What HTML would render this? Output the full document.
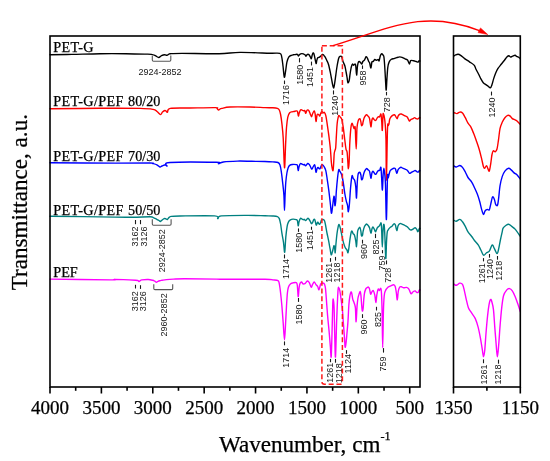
<!DOCTYPE html>
<html><head><meta charset="utf-8"><style>
html,body{margin:0;padding:0;background:#fff;}
svg{display:block;}
.ann{font-family:"Liberation Sans",Arial,sans-serif;font-size:9px;fill:#151515;}
.ser{font-family:"Liberation Serif","Times New Roman",serif;fill:#000;stroke:#000;stroke-width:0.25px;}
</style></head><body>
<svg width="550" height="461" viewBox="0 0 550 461">
<rect width="550" height="461" fill="#fff"/>

<path d="M50.00,54.80 C53.67,54.73 63.67,54.58 72.00,54.40 C80.33,54.22 91.00,53.82 100.00,53.70 C109.00,53.58 118.50,53.63 126.00,53.70 C133.50,53.77 140.77,53.98 145.00,54.10 C149.23,54.22 149.70,54.15 151.40,54.40 C153.10,54.65 153.98,55.08 155.20,55.60 C156.42,56.12 157.65,57.50 158.70,57.50 C159.75,57.50 160.50,56.07 161.50,55.60 C162.50,55.13 163.78,54.75 164.70,54.70 C165.62,54.65 166.35,55.35 167.00,55.30 C167.65,55.25 168.02,54.67 168.60,54.40 C169.18,54.13 168.27,53.87 170.50,53.70 C172.73,53.53 173.92,53.40 182.00,53.40 C190.08,53.40 209.33,53.87 219.00,53.70 C228.67,53.53 231.50,52.48 240.00,52.40 C248.50,52.32 263.37,53.03 270.00,53.20 C276.63,53.37 277.85,52.78 279.80,53.40 C281.75,54.02 281.17,54.80 281.70,56.90 C282.23,59.00 282.57,62.63 283.00,66.00 C283.43,69.37 283.87,76.23 284.30,77.10 C284.73,77.97 285.17,73.70 285.60,71.20 C286.03,68.70 286.35,64.48 286.90,62.10 C287.45,59.72 288.13,58.03 288.90,56.90 C289.67,55.77 290.73,55.65 291.50,55.30 C292.27,54.95 292.88,54.92 293.50,54.80 C294.12,54.68 294.63,54.68 295.20,54.60 C295.77,54.52 296.45,54.25 296.90,54.30 C297.35,54.35 297.63,54.62 297.90,54.90 C298.17,55.18 298.23,56.05 298.50,56.00 C298.77,55.95 298.95,55.00 299.50,54.60 C300.05,54.20 301.10,53.68 301.80,53.60 C302.50,53.52 303.13,53.87 303.70,54.10 C304.27,54.33 304.82,54.65 305.20,55.00 C305.58,55.35 305.70,56.23 306.00,56.20 C306.30,56.17 306.67,55.15 307.00,54.80 C307.33,54.45 307.67,54.10 308.00,54.10 C308.33,54.10 308.62,54.35 309.00,54.80 C309.38,55.25 309.92,56.15 310.30,56.80 C310.68,57.45 311.00,58.92 311.30,58.70 C311.60,58.48 311.82,56.47 312.10,55.50 C312.38,54.53 312.70,53.18 313.00,52.90 C313.30,52.62 313.62,53.10 313.90,53.80 C314.18,54.50 314.43,55.90 314.70,57.10 C314.97,58.30 315.25,59.92 315.50,61.00 C315.75,62.08 315.98,63.70 316.20,63.60 C316.42,63.50 316.53,61.38 316.80,60.40 C317.07,59.42 317.42,58.20 317.80,57.70 C318.18,57.20 318.67,57.62 319.10,57.40 C319.53,57.18 320.02,56.72 320.40,56.40 C320.78,56.08 321.07,55.82 321.40,55.50 C321.73,55.18 322.07,54.62 322.40,54.50 C322.73,54.38 323.07,54.53 323.40,54.80 C323.73,55.07 324.02,55.55 324.40,56.10 C324.78,56.65 325.32,57.42 325.70,58.10 C326.08,58.78 326.22,59.10 326.70,60.20 C327.18,61.30 327.95,62.43 328.60,64.70 C329.25,66.97 329.98,70.75 330.60,73.80 C331.22,76.85 331.82,80.65 332.30,83.00 C332.78,85.35 333.13,87.68 333.50,87.90 C333.87,88.12 334.12,86.43 334.50,84.30 C334.88,82.17 335.37,78.15 335.80,75.10 C336.23,72.05 336.62,68.82 337.10,66.00 C337.58,63.18 338.20,59.82 338.70,58.20 C339.20,56.58 339.60,56.55 340.10,56.30 C340.60,56.05 341.22,55.83 341.70,56.70 C342.18,57.57 342.47,59.95 343.00,61.50 C343.53,63.05 344.37,64.17 344.90,66.00 C345.43,67.83 345.83,70.55 346.20,72.50 C346.57,74.45 346.82,76.00 347.10,77.70 C347.38,79.40 347.55,82.27 347.90,82.70 C348.25,83.13 348.83,81.78 349.20,80.30 C349.57,78.82 349.73,76.07 350.10,73.80 C350.47,71.53 351.00,68.32 351.40,66.70 C351.80,65.08 352.13,64.32 352.50,64.10 C352.87,63.88 353.23,65.40 353.60,65.40 C353.97,65.40 354.35,64.10 354.70,64.10 C355.05,64.10 355.38,63.57 355.70,65.40 C356.02,67.23 356.30,75.00 356.60,75.10 C356.90,75.20 357.18,68.22 357.50,66.00 C357.82,63.78 358.05,62.45 358.50,61.80 C358.95,61.15 359.65,61.72 360.20,62.10 C360.75,62.48 361.37,64.20 361.80,64.10 C362.23,64.00 362.37,62.15 362.80,61.50 C363.23,60.85 363.85,61.00 364.40,60.20 C364.95,59.40 365.60,57.03 366.10,56.70 C366.60,56.37 366.97,57.40 367.40,58.20 C367.83,59.00 368.33,60.73 368.70,61.50 C369.07,62.27 369.23,61.72 369.60,62.80 C369.97,63.88 370.52,68.12 370.90,68.00 C371.28,67.88 371.52,63.18 371.90,62.10 C372.28,61.02 372.72,61.93 373.20,61.50 C373.68,61.07 374.25,59.72 374.80,59.50 C375.35,59.28 375.93,60.20 376.50,60.20 C377.07,60.20 377.77,59.40 378.20,59.50 C378.63,59.60 378.73,61.45 379.10,60.80 C379.47,60.15 379.97,56.78 380.40,55.60 C380.83,54.42 381.27,53.80 381.70,53.70 C382.13,53.60 382.63,54.47 383.00,55.00 C383.37,55.53 383.62,55.07 383.90,56.90 C384.18,58.73 384.42,61.87 384.70,66.00 C384.98,70.13 385.35,77.68 385.60,81.70 C385.85,85.72 385.98,90.53 386.20,90.10 C386.42,89.67 386.63,82.90 386.90,79.10 C387.17,75.30 387.43,70.13 387.80,67.30 C388.17,64.47 388.50,63.43 389.10,62.10 C389.70,60.77 390.57,59.88 391.40,59.30 C392.23,58.72 393.22,58.88 394.10,58.60 C394.98,58.32 395.73,57.88 396.70,57.60 C397.67,57.32 398.93,56.90 399.90,56.90 C400.87,56.90 401.63,57.27 402.50,57.60 C403.37,57.93 404.23,58.47 405.10,58.90 C405.97,59.33 406.98,59.33 407.70,60.20 C408.42,61.07 408.90,64.03 409.40,64.10 C409.90,64.17 410.00,61.15 410.70,60.60 C411.40,60.05 412.68,60.65 413.60,60.80 C414.52,60.95 415.45,61.28 416.20,61.50 C416.95,61.72 417.63,62.22 418.10,62.10 C418.57,61.98 418.68,60.98 419.00,60.80 C419.32,60.62 419.83,60.97 420.00,61.00" fill="none" stroke="#000" stroke-width="1.4" stroke-linejoin="round" stroke-linecap="round"/>
<path d="M50.00,108.80 C58.33,108.72 85.00,108.37 100.00,108.30 C115.00,108.23 131.15,108.22 140.00,108.40 C148.85,108.58 150.27,108.88 153.10,109.40 C155.93,109.92 155.77,110.63 157.00,111.50 C158.23,112.37 159.58,114.52 160.50,114.60 C161.42,114.68 161.77,112.68 162.50,112.00 C163.23,111.32 164.28,110.63 164.90,110.50 C165.52,110.37 165.77,110.92 166.20,111.20 C166.63,111.48 166.82,112.67 167.50,112.20 C168.18,111.73 166.55,109.10 170.30,108.40 C174.05,107.70 182.50,108.13 190.00,108.00 C197.50,107.87 210.80,107.52 215.30,107.60 C219.80,107.68 216.45,108.10 217.00,108.50 C217.55,108.90 218.10,109.92 218.60,110.00 C219.10,110.08 219.47,109.27 220.00,109.00 C220.53,108.73 220.13,108.73 221.80,108.40 C223.47,108.07 225.30,107.23 230.00,107.00 C234.70,106.77 244.17,106.90 250.00,107.00 C255.83,107.10 261.20,107.47 265.00,107.60 C268.80,107.73 270.73,107.67 272.80,107.80 C274.87,107.93 276.32,108.03 277.40,108.40 C278.48,108.77 278.77,108.98 279.30,110.00 C279.83,111.02 280.17,112.23 280.60,114.50 C281.03,116.77 281.47,119.68 281.90,123.60 C282.33,127.52 282.77,130.65 283.20,138.00 C283.63,145.35 284.10,166.62 284.50,167.70 C284.90,168.78 285.27,151.20 285.60,144.50 C285.93,137.80 286.13,132.07 286.50,127.50 C286.87,122.93 287.27,119.55 287.80,117.10 C288.33,114.65 289.00,113.68 289.70,112.80 C290.40,111.92 291.30,112.02 292.00,111.80 C292.70,111.58 293.15,111.65 293.90,111.50 C294.65,111.35 295.90,110.88 296.50,110.90 C297.10,110.92 297.18,110.75 297.50,111.60 C297.82,112.45 298.12,115.75 298.40,116.00 C298.68,116.25 298.85,114.12 299.20,113.10 C299.55,112.08 300.02,110.40 300.50,109.90 C300.98,109.40 301.62,109.95 302.10,110.10 C302.58,110.25 302.97,110.73 303.40,110.80 C303.83,110.87 304.32,110.07 304.70,110.50 C305.08,110.93 305.37,113.35 305.70,113.40 C306.03,113.45 306.37,111.38 306.70,110.80 C307.03,110.22 307.32,109.90 307.70,109.90 C308.08,109.90 308.57,110.10 309.00,110.80 C309.43,111.50 309.88,113.12 310.30,114.10 C310.72,115.08 311.12,116.77 311.50,116.70 C311.88,116.63 312.13,114.68 312.60,113.70 C313.07,112.72 313.87,110.68 314.30,110.80 C314.73,110.92 314.92,112.60 315.20,114.40 C315.48,116.20 315.70,121.48 316.00,121.60 C316.30,121.72 316.70,116.35 317.00,115.10 C317.30,113.85 317.50,114.17 317.80,114.10 C318.10,114.03 318.47,114.38 318.80,114.70 C319.13,115.02 319.42,116.38 319.80,116.00 C320.18,115.62 320.72,113.10 321.10,112.40 C321.48,111.70 321.72,111.73 322.10,111.80 C322.48,111.87 323.02,112.70 323.40,112.80 C323.78,112.90 324.00,111.93 324.40,112.40 C324.80,112.87 325.32,113.53 325.80,115.60 C326.28,117.67 326.80,121.50 327.30,124.80 C327.80,128.10 328.28,131.35 328.80,135.40 C329.32,139.45 329.97,144.53 330.40,149.10 C330.83,153.67 331.08,159.50 331.40,162.80 C331.72,166.10 332.02,167.63 332.30,168.90 C332.58,170.17 332.87,171.42 333.10,170.40 C333.33,169.38 333.52,165.58 333.70,162.80 C333.88,160.02 334.00,155.73 334.20,153.70 C334.40,151.67 334.65,151.62 334.90,150.60 C335.15,149.58 335.45,150.13 335.70,147.60 C335.95,145.07 336.15,139.45 336.40,135.40 C336.65,131.35 336.87,126.47 337.20,123.30 C337.53,120.13 338.07,117.68 338.40,116.40 C338.73,115.12 338.88,115.47 339.20,115.60 C339.52,115.73 339.87,116.57 340.30,117.20 C340.73,117.83 341.30,117.63 341.80,119.40 C342.30,121.17 342.80,124.37 343.30,127.80 C343.80,131.23 344.35,136.45 344.80,140.00 C345.25,143.55 345.62,147.08 346.00,149.10 C346.38,151.12 346.78,149.82 347.10,152.10 C347.42,154.38 347.70,160.00 347.90,162.80 C348.10,165.60 348.10,168.90 348.30,168.90 C348.50,168.90 348.85,167.12 349.10,162.80 C349.35,158.48 349.50,148.83 349.80,143.00 C350.10,137.17 350.53,131.08 350.90,127.80 C351.27,124.52 351.62,123.55 352.00,123.30 C352.38,123.05 352.83,125.42 353.20,126.30 C353.57,127.18 353.87,128.35 354.20,128.60 C354.53,128.85 354.87,124.38 355.20,127.80 C355.53,131.22 355.90,149.10 356.20,149.10 C356.50,149.10 356.65,132.57 357.00,127.80 C357.35,123.03 357.82,122.02 358.30,120.50 C358.78,118.98 359.47,118.47 359.90,118.70 C360.33,118.93 360.63,120.77 360.90,121.90 C361.17,123.03 361.23,125.02 361.50,125.50 C361.77,125.98 362.23,125.40 362.50,124.80 C362.77,124.20 362.83,123.03 363.10,121.90 C363.37,120.77 363.72,119.03 364.10,118.00 C364.48,116.97 364.97,116.23 365.40,115.70 C365.83,115.17 366.27,114.73 366.70,114.80 C367.13,114.87 367.52,115.45 368.00,116.10 C368.48,116.75 369.12,116.92 369.60,118.70 C370.08,120.48 370.52,126.58 370.90,126.80 C371.28,127.02 371.57,121.47 371.90,120.00 C372.23,118.53 372.57,118.12 372.90,118.00 C373.23,117.88 373.52,118.87 373.90,119.30 C374.28,119.73 374.83,120.48 375.20,120.60 C375.57,120.72 375.73,120.48 376.10,120.00 C376.47,119.52 377.02,118.25 377.40,117.70 C377.78,117.15 378.07,116.82 378.40,116.70 C378.73,116.58 379.07,117.32 379.40,117.00 C379.73,116.68 380.13,115.23 380.40,114.80 C380.67,114.37 380.78,113.32 381.00,114.40 C381.22,115.48 381.48,118.63 381.70,121.30 C381.92,123.97 382.08,131.48 382.30,130.40 C382.52,129.32 382.78,117.47 383.00,114.80 C383.22,112.13 383.37,113.93 383.60,114.40 C383.83,114.87 384.13,115.95 384.40,117.60 C384.67,119.25 384.93,120.55 385.20,124.30 C385.47,128.05 385.80,130.82 386.00,140.10 C386.20,149.38 386.15,181.88 386.40,180.00 C386.65,178.12 387.18,137.88 387.50,128.80 C387.82,119.72 388.05,126.33 388.30,125.50 C388.55,124.67 388.77,124.83 389.00,123.80 C389.23,122.77 389.38,120.43 389.70,119.30 C390.02,118.17 390.42,117.67 390.90,117.00 C391.38,116.33 392.03,115.68 392.60,115.30 C393.17,114.92 393.83,114.60 394.30,114.70 C394.77,114.80 394.93,115.23 395.40,115.90 C395.87,116.57 396.63,118.70 397.10,118.70 C397.57,118.70 397.73,116.65 398.20,115.90 C398.67,115.15 399.37,114.52 399.90,114.20 C400.43,113.88 400.93,113.92 401.40,114.00 C401.87,114.08 402.10,114.38 402.70,114.70 C403.30,115.02 404.25,115.52 405.00,115.90 C405.75,116.28 406.48,116.17 407.20,117.00 C407.92,117.83 408.73,120.43 409.30,120.90 C409.87,121.37 410.00,120.17 410.60,119.80 C411.20,119.43 412.23,119.07 412.90,118.70 C413.57,118.33 414.05,117.60 414.60,117.60 C415.15,117.60 415.65,118.48 416.20,118.70 C416.75,118.92 417.37,119.08 417.90,118.90 C418.43,118.72 419.05,117.78 419.40,117.60 C419.75,117.42 419.90,117.77 420.00,117.80" fill="none" stroke="#ff0000" stroke-width="1.4" stroke-linejoin="round" stroke-linecap="round"/>
<path d="M50.00,162.70 C60.92,162.77 98.83,163.05 115.50,163.10 C132.17,163.15 143.82,162.93 150.00,163.00 C156.18,163.07 151.45,163.20 152.60,163.50 C153.75,163.80 155.68,164.22 156.90,164.80 C158.12,165.38 159.05,166.80 159.90,167.00 C160.75,167.20 161.08,166.38 162.00,166.00 C162.92,165.62 164.57,164.68 165.40,164.70 C166.23,164.72 166.23,166.47 167.00,166.10 C167.77,165.73 161.80,163.13 170.00,162.50 C178.20,161.87 208.10,162.10 216.20,162.30 C224.30,162.50 217.42,163.75 218.60,163.70 C219.78,163.65 220.15,162.43 223.30,162.00 C226.45,161.57 232.77,161.22 237.50,161.10 C242.23,160.98 247.12,161.23 251.70,161.30 C256.28,161.37 261.48,161.40 265.00,161.50 C268.52,161.60 270.63,161.73 272.80,161.90 C274.97,162.07 276.80,161.97 278.00,162.50 C279.20,163.03 279.45,163.58 280.00,165.10 C280.55,166.62 280.87,168.77 281.30,171.60 C281.73,174.43 282.17,178.20 282.60,182.10 C283.03,186.00 283.58,190.28 283.90,195.00 C284.22,199.72 284.30,210.40 284.50,210.40 C284.70,210.40 284.88,199.72 285.10,195.00 C285.32,190.28 285.50,185.77 285.80,182.10 C286.10,178.43 286.50,175.40 286.90,173.00 C287.30,170.60 287.73,168.97 288.20,167.70 C288.67,166.43 289.02,165.93 289.70,165.40 C290.38,164.87 291.22,164.63 292.30,164.50 C293.38,164.37 295.35,164.45 296.20,164.60 C297.05,164.75 297.07,164.40 297.40,165.40 C297.73,166.40 297.92,170.42 298.20,170.60 C298.48,170.78 298.72,167.68 299.10,166.50 C299.48,165.32 300.00,163.88 300.50,163.50 C301.00,163.12 301.62,163.98 302.10,164.20 C302.58,164.42 303.02,164.75 303.40,164.80 C303.78,164.85 304.02,164.33 304.40,164.50 C304.78,164.67 305.15,165.97 305.70,165.80 C306.25,165.63 307.10,163.72 307.70,163.50 C308.30,163.28 308.85,164.00 309.30,164.50 C309.75,165.00 310.02,165.73 310.40,166.50 C310.78,167.27 311.22,168.88 311.60,169.10 C311.98,169.32 312.25,168.52 312.70,167.80 C313.15,167.08 313.88,164.97 314.30,164.80 C314.72,164.63 314.92,165.55 315.20,166.80 C315.48,168.05 315.68,172.03 316.00,172.30 C316.32,172.57 316.75,169.22 317.10,168.40 C317.45,167.58 317.77,167.35 318.10,167.40 C318.43,167.45 318.77,168.52 319.10,168.70 C319.43,168.88 319.72,169.03 320.10,168.50 C320.48,167.97 320.97,166.12 321.40,165.50 C321.83,164.88 322.27,164.63 322.70,164.80 C323.13,164.97 323.48,165.53 324.00,166.50 C324.52,167.47 325.25,168.38 325.80,170.60 C326.35,172.82 326.80,176.50 327.30,179.80 C327.80,183.10 328.28,186.35 328.80,190.40 C329.32,194.45 329.97,200.30 330.40,204.10 C330.83,207.90 331.08,212.43 331.40,213.20 C331.72,213.97 331.97,210.98 332.30,208.70 C332.63,206.42 333.08,201.53 333.40,199.50 C333.72,197.47 333.95,195.48 334.20,196.50 C334.45,197.52 334.65,204.83 334.90,205.60 C335.15,206.37 335.45,203.63 335.70,201.10 C335.95,198.57 336.10,194.20 336.40,190.40 C336.70,186.60 337.12,181.72 337.50,178.30 C337.88,174.88 338.30,171.05 338.70,169.90 C339.10,168.75 339.38,170.52 339.90,171.40 C340.42,172.28 341.23,173.30 341.80,175.20 C342.37,177.10 342.80,179.75 343.30,182.80 C343.80,185.85 344.30,190.45 344.80,193.50 C345.30,196.55 345.83,199.08 346.30,201.10 C346.77,203.12 347.27,203.83 347.60,205.60 C347.93,207.37 348.00,211.95 348.30,211.70 C348.60,211.45 349.02,208.15 349.40,204.10 C349.78,200.05 350.17,192.08 350.60,187.40 C351.03,182.72 351.57,177.52 352.00,176.00 C352.43,174.48 352.75,177.55 353.20,178.30 C353.65,179.05 354.27,178.98 354.70,180.50 C355.13,182.02 355.50,184.48 355.80,187.40 C356.10,190.32 356.25,198.90 356.50,198.00 C356.75,197.10 357.07,185.75 357.30,182.00 C357.53,178.25 357.68,177.00 357.90,175.50 C358.12,174.00 358.27,173.52 358.60,173.00 C358.93,172.48 359.52,172.07 359.90,172.40 C360.28,172.73 360.63,173.82 360.90,175.00 C361.17,176.18 361.23,178.85 361.50,179.50 C361.77,180.15 362.23,179.43 362.50,178.90 C362.77,178.37 362.83,177.38 363.10,176.30 C363.37,175.22 363.72,173.48 364.10,172.40 C364.48,171.32 364.97,170.45 365.40,169.80 C365.83,169.15 366.27,168.50 366.70,168.50 C367.13,168.50 367.52,169.32 368.00,169.80 C368.48,170.28 369.12,170.00 369.60,171.40 C370.08,172.80 370.52,177.93 370.90,178.20 C371.28,178.47 371.57,174.18 371.90,173.00 C372.23,171.82 372.57,171.20 372.90,171.10 C373.23,171.00 373.52,171.87 373.90,172.40 C374.28,172.93 374.83,174.03 375.20,174.30 C375.57,174.57 375.73,174.43 376.10,174.00 C376.47,173.57 376.97,172.30 377.40,171.70 C377.83,171.10 378.32,170.62 378.70,170.40 C379.08,170.18 379.42,170.78 379.70,170.40 C379.98,170.02 380.18,168.53 380.40,168.10 C380.62,167.67 380.80,166.28 381.00,167.80 C381.20,169.32 381.37,173.50 381.60,177.20 C381.83,180.90 382.13,190.57 382.40,190.00 C382.67,189.43 382.95,177.43 383.20,173.80 C383.45,170.17 383.65,168.20 383.90,168.20 C384.15,168.20 384.43,170.98 384.70,173.80 C384.97,176.62 385.22,177.47 385.50,185.10 C385.78,192.73 386.07,220.92 386.40,219.60 C386.73,218.28 387.18,184.17 387.50,177.20 C387.82,170.23 388.02,178.37 388.30,177.80 C388.58,177.23 388.87,175.02 389.20,173.80 C389.53,172.58 389.83,171.28 390.30,170.50 C390.77,169.72 391.40,169.48 392.00,169.10 C392.60,168.72 393.33,168.25 393.90,168.20 C394.47,168.15 394.92,167.95 395.40,168.80 C395.88,169.65 396.37,173.12 396.80,173.30 C397.23,173.48 397.53,170.78 398.00,169.90 C398.47,169.02 399.10,168.43 399.60,168.00 C400.10,167.57 400.48,167.27 401.00,167.30 C401.52,167.33 402.03,167.90 402.70,168.20 C403.37,168.50 404.25,168.77 405.00,169.10 C405.75,169.43 406.45,169.50 407.20,170.20 C407.95,170.90 408.83,172.92 409.50,173.30 C410.17,173.68 410.55,172.82 411.20,172.50 C411.85,172.18 412.75,171.73 413.40,171.40 C414.05,171.07 414.53,170.47 415.10,170.50 C415.67,170.53 416.27,171.33 416.80,171.60 C417.33,171.87 417.87,172.28 418.30,172.10 C418.73,171.92 419.12,170.72 419.40,170.50 C419.68,170.28 419.90,170.75 420.00,170.80" fill="none" stroke="#0000ff" stroke-width="1.4" stroke-linejoin="round" stroke-linecap="round"/>
<path d="M50.00,216.20 C60.83,216.35 101.22,216.92 115.00,217.10 C128.78,217.28 126.85,217.35 132.70,217.30 C138.55,217.25 146.67,216.75 150.10,216.80 C153.53,216.85 152.23,217.20 153.30,217.60 C154.37,218.00 155.55,218.72 156.50,219.20 C157.45,219.68 158.37,220.12 159.00,220.50 C159.63,220.88 159.82,221.55 160.30,221.50 C160.78,221.45 161.27,220.68 161.90,220.20 C162.53,219.72 163.42,218.82 164.10,218.60 C164.78,218.38 165.47,218.75 166.00,218.90 C166.53,219.05 166.82,219.72 167.30,219.50 C167.78,219.28 168.27,218.12 168.90,217.60 C169.53,217.08 169.25,216.67 171.10,216.40 C172.95,216.13 172.77,216.08 180.00,216.00 C187.23,215.92 208.20,215.47 214.50,215.90 C220.80,216.33 216.65,218.60 217.80,218.60 C218.95,218.60 216.48,216.43 221.40,215.90 C226.32,215.37 240.03,215.42 247.30,215.40 C254.57,215.38 260.75,215.70 265.00,215.80 C269.25,215.90 270.73,215.87 272.80,216.00 C274.87,216.13 276.32,216.17 277.40,216.60 C278.48,217.03 278.77,217.37 279.30,218.60 C279.83,219.83 280.17,221.57 280.60,224.00 C281.03,226.43 281.42,230.15 281.90,233.20 C282.38,236.25 283.03,239.12 283.50,242.30 C283.97,245.48 284.32,253.17 284.70,252.30 C285.08,251.43 285.40,241.38 285.80,237.10 C286.20,232.82 286.67,229.10 287.10,226.60 C287.53,224.10 287.85,223.22 288.40,222.10 C288.95,220.98 289.63,220.40 290.40,219.90 C291.17,219.40 292.03,219.15 293.00,219.10 C293.97,219.05 295.47,219.35 296.20,219.60 C296.93,219.85 297.07,219.57 297.40,220.60 C297.73,221.63 297.92,225.65 298.20,225.80 C298.48,225.95 298.72,222.73 299.10,221.50 C299.48,220.27 300.00,218.78 300.50,218.40 C301.00,218.02 301.62,218.97 302.10,219.20 C302.58,219.43 303.03,219.78 303.40,219.80 C303.77,219.82 303.92,219.17 304.30,219.30 C304.68,219.43 305.13,220.77 305.70,220.60 C306.27,220.43 307.15,218.53 307.70,218.30 C308.25,218.07 308.57,218.67 309.00,219.20 C309.43,219.73 309.87,220.75 310.30,221.50 C310.73,222.25 311.22,223.55 311.60,223.70 C311.98,223.85 312.27,223.03 312.60,222.40 C312.93,221.77 313.28,220.42 313.60,219.90 C313.92,219.38 314.23,219.10 314.50,219.30 C314.77,219.50 314.92,220.13 315.20,221.10 C315.48,222.07 315.87,224.77 316.20,225.10 C316.53,225.43 316.93,223.60 317.20,223.10 C317.47,222.60 317.53,222.00 317.80,222.10 C318.07,222.20 318.47,223.37 318.80,223.70 C319.13,224.03 319.47,224.37 319.80,224.10 C320.13,223.83 320.48,222.80 320.80,222.10 C321.12,221.40 321.13,220.23 321.70,219.90 C322.27,219.57 323.60,219.43 324.20,220.10 C324.80,220.77 324.85,221.82 325.30,223.90 C325.75,225.98 326.37,229.88 326.90,232.60 C327.43,235.32 327.97,237.48 328.50,240.20 C329.03,242.92 329.65,246.47 330.10,248.90 C330.55,251.33 330.83,254.27 331.20,254.80 C331.57,255.33 331.93,253.27 332.30,252.10 C332.67,250.93 333.10,248.88 333.40,247.80 C333.70,246.72 333.87,245.33 334.10,245.60 C334.33,245.87 334.62,248.22 334.80,249.40 C334.98,250.58 335.02,253.52 335.20,252.70 C335.38,251.88 335.60,247.67 335.90,244.50 C336.20,241.33 336.60,236.77 337.00,233.70 C337.40,230.63 337.97,227.63 338.30,226.10 C338.63,224.57 338.73,224.42 339.00,224.50 C339.27,224.58 339.52,225.25 339.90,226.60 C340.28,227.95 340.85,230.52 341.30,232.60 C341.75,234.68 342.20,237.30 342.60,239.10 C343.00,240.90 343.25,241.95 343.70,243.40 C344.15,244.85 344.77,246.72 345.30,247.80 C345.83,248.88 346.45,249.08 346.90,249.90 C347.35,250.72 347.67,253.05 348.00,252.70 C348.33,252.35 348.57,250.07 348.90,247.80 C349.23,245.53 349.63,241.63 350.00,239.10 C350.37,236.57 350.77,233.95 351.10,232.60 C351.43,231.25 351.67,230.82 352.00,231.00 C352.33,231.18 352.68,232.98 353.10,233.70 C353.52,234.42 354.05,234.03 354.50,235.30 C354.95,236.57 355.47,239.40 355.80,241.30 C356.13,243.20 356.30,246.88 356.50,246.70 C356.70,246.52 356.82,242.73 357.00,240.20 C357.18,237.67 357.33,233.42 357.60,231.50 C357.87,229.58 358.22,229.38 358.60,228.70 C358.98,228.02 359.52,226.97 359.90,227.40 C360.28,227.83 360.63,229.90 360.90,231.30 C361.17,232.70 361.23,235.15 361.50,235.80 C361.77,236.45 362.23,235.95 362.50,235.20 C362.77,234.45 362.78,232.72 363.10,231.30 C363.42,229.88 363.97,227.78 364.40,226.70 C364.83,225.62 365.32,225.23 365.70,224.80 C366.08,224.37 366.27,223.95 366.70,224.10 C367.13,224.25 367.82,225.05 368.30,225.70 C368.78,226.35 369.17,226.75 369.60,228.00 C370.03,229.25 370.50,233.08 370.90,233.20 C371.30,233.32 371.67,229.73 372.00,228.70 C372.33,227.67 372.53,226.95 372.90,227.00 C373.27,227.05 373.77,228.18 374.20,229.00 C374.63,229.82 375.12,231.80 375.50,231.90 C375.88,232.00 376.18,230.30 376.50,229.60 C376.82,228.90 377.03,228.23 377.40,227.70 C377.77,227.17 378.35,226.72 378.70,226.40 C379.05,226.08 379.22,226.22 379.50,225.80 C379.78,225.38 380.12,224.32 380.40,223.90 C380.68,223.48 380.98,222.07 381.20,223.30 C381.42,224.53 381.52,227.35 381.70,231.30 C381.88,235.25 382.08,247.00 382.30,247.00 C382.52,247.00 382.78,235.00 383.00,231.30 C383.22,227.60 383.38,225.68 383.60,224.80 C383.82,223.92 384.08,224.02 384.30,226.00 C384.52,227.98 384.65,231.27 384.90,236.70 C385.15,242.13 385.53,257.68 385.80,258.60 C386.07,259.52 386.27,246.57 386.50,242.20 C386.73,237.83 386.95,234.40 387.20,232.40 C387.45,230.40 387.70,230.83 388.00,230.20 C388.30,229.57 388.55,229.13 389.00,228.60 C389.45,228.07 390.15,227.45 390.70,227.00 C391.25,226.55 391.77,226.43 392.30,225.90 C392.83,225.37 393.38,223.95 393.90,223.80 C394.42,223.65 394.92,223.87 395.40,225.00 C395.88,226.13 396.37,230.42 396.80,230.60 C397.23,230.78 397.53,227.23 398.00,226.10 C398.47,224.97 399.10,224.22 399.60,223.80 C400.10,223.38 400.48,223.50 401.00,223.60 C401.52,223.70 402.03,224.08 402.70,224.40 C403.37,224.72 404.25,225.12 405.00,225.50 C405.75,225.88 406.42,226.03 407.20,226.70 C407.98,227.37 409.03,228.95 409.70,229.50 C410.37,230.05 410.58,230.10 411.20,230.00 C411.82,229.90 412.75,229.27 413.40,228.90 C414.05,228.53 414.53,227.70 415.10,227.80 C415.67,227.90 416.33,228.85 416.80,229.50 C417.27,230.15 417.47,231.88 417.90,231.70 C418.33,231.52 419.05,228.92 419.40,228.40 C419.75,227.88 419.90,228.57 420.00,228.60" fill="none" stroke="#008080" stroke-width="1.4" stroke-linejoin="round" stroke-linecap="round"/>
<path d="M50.00,279.10 C60.00,279.23 99.17,279.85 110.00,279.90 C120.83,279.95 110.75,279.33 115.00,279.40 C119.25,279.47 131.67,280.08 135.50,280.30 C139.33,280.52 137.40,280.50 138.00,280.70 C138.60,280.90 138.72,281.52 139.10,281.50 C139.48,281.48 139.85,280.87 140.30,280.60 C140.75,280.33 140.48,280.08 141.80,279.90 C143.12,279.72 146.38,279.43 148.20,279.50 C150.02,279.57 151.60,280.02 152.70,280.30 C153.80,280.58 154.18,280.88 154.80,281.20 C155.42,281.52 155.87,282.18 156.40,282.20 C156.93,282.22 157.43,281.55 158.00,281.30 C158.57,281.05 159.13,280.87 159.80,280.70 C160.47,280.53 160.90,280.48 162.00,280.30 C163.10,280.12 164.48,279.80 166.40,279.60 C168.32,279.40 170.40,279.23 173.50,279.10 C176.60,278.97 177.25,278.78 185.00,278.80 C192.75,278.82 206.67,279.12 220.00,279.20 C233.33,279.28 256.20,279.18 265.00,279.30 C273.80,279.42 270.63,279.67 272.80,279.90 C274.97,280.13 276.92,280.03 278.00,280.70 C279.08,281.37 278.87,281.85 279.30,283.90 C279.73,285.95 280.17,289.32 280.60,293.00 C281.03,296.68 281.47,301.00 281.90,306.00 C282.33,311.00 282.77,317.37 283.20,323.00 C283.63,328.63 284.10,339.80 284.50,339.80 C284.90,339.80 285.27,328.63 285.60,323.00 C285.93,317.37 286.20,311.00 286.50,306.00 C286.80,301.00 287.08,296.13 287.40,293.00 C287.72,289.87 287.90,288.72 288.40,287.20 C288.90,285.68 289.63,284.62 290.40,283.90 C291.17,283.18 292.03,283.12 293.00,282.90 C293.97,282.68 295.48,282.22 296.20,282.60 C296.92,282.98 296.97,282.87 297.30,285.20 C297.63,287.53 297.90,296.17 298.20,296.60 C298.50,297.03 298.78,290.02 299.10,287.80 C299.42,285.58 299.67,284.27 300.10,283.30 C300.53,282.33 301.22,281.90 301.70,282.00 C302.18,282.10 302.40,283.68 303.00,283.90 C303.60,284.12 304.58,283.78 305.30,283.30 C306.02,282.82 306.63,281.12 307.30,281.00 C307.97,280.88 308.65,281.57 309.30,282.60 C309.95,283.63 310.67,286.87 311.20,287.20 C311.73,287.53 312.00,285.47 312.50,284.60 C313.00,283.73 313.62,282.00 314.20,282.00 C314.78,282.00 315.42,283.85 316.00,284.60 C316.58,285.35 317.20,285.63 317.70,286.50 C318.20,287.37 318.57,290.02 319.00,289.80 C319.43,289.58 319.92,286.27 320.30,285.20 C320.68,284.13 320.70,283.70 321.30,283.40 C321.90,283.10 323.25,282.87 323.90,283.40 C324.55,283.93 324.87,285.00 325.20,286.60 C325.53,288.20 325.52,288.35 325.90,293.00 C326.28,297.65 326.97,308.10 327.50,314.50 C328.03,320.90 328.62,325.97 329.10,331.40 C329.58,336.83 330.05,342.85 330.40,347.10 C330.75,351.35 330.93,359.08 331.20,356.90 C331.47,354.72 331.73,343.02 332.00,334.00 C332.27,324.98 332.57,308.43 332.80,302.80 C333.03,297.17 333.18,299.33 333.40,300.20 C333.62,301.07 333.88,302.37 334.10,308.00 C334.32,313.63 334.47,325.85 334.70,334.00 C334.93,342.15 335.17,359.23 335.50,356.90 C335.83,354.57 336.28,331.05 336.70,320.00 C337.12,308.95 337.63,295.93 338.00,290.60 C338.37,285.27 338.60,288.00 338.90,288.00 C339.20,288.00 339.43,288.72 339.80,290.60 C340.17,292.48 340.67,296.12 341.10,299.30 C341.53,302.48 342.05,306.08 342.40,309.70 C342.75,313.32 342.85,316.28 343.20,321.00 C343.55,325.72 344.18,333.65 344.50,338.00 C344.82,342.35 344.85,346.23 345.10,347.10 C345.35,347.97 345.70,345.38 346.00,343.20 C346.30,341.02 346.57,337.70 346.90,334.00 C347.23,330.30 347.67,325.92 348.00,321.00 C348.33,316.08 348.58,308.70 348.90,304.50 C349.22,300.30 349.53,297.90 349.90,295.80 C350.27,293.70 350.77,292.18 351.10,291.90 C351.43,291.62 351.62,292.87 351.90,294.10 C352.18,295.33 352.43,297.85 352.80,299.30 C353.17,300.75 353.67,301.35 354.10,302.80 C354.53,304.25 355.07,304.85 355.40,308.00 C355.73,311.15 355.82,322.13 356.10,321.70 C356.38,321.27 356.78,309.35 357.10,305.40 C357.42,301.45 357.67,299.88 358.00,298.00 C358.33,296.12 358.73,295.18 359.10,294.10 C359.47,293.02 359.90,291.35 360.20,291.50 C360.50,291.65 360.68,293.12 360.90,295.00 C361.12,296.88 361.30,300.35 361.50,302.80 C361.70,305.25 361.92,308.33 362.10,309.70 C362.28,311.07 362.42,311.28 362.60,311.00 C362.78,310.72 363.00,309.95 363.20,308.00 C363.40,306.05 363.58,301.77 363.80,299.30 C364.02,296.83 364.17,294.93 364.50,293.20 C364.83,291.47 365.37,289.83 365.80,288.90 C366.23,287.97 366.67,287.90 367.10,287.60 C367.53,287.30 368.00,286.88 368.40,287.10 C368.80,287.32 369.13,287.73 369.50,288.90 C369.87,290.07 370.25,293.52 370.60,294.10 C370.95,294.68 371.17,292.98 371.60,292.40 C372.03,291.82 372.67,290.13 373.20,290.60 C373.73,291.07 374.35,293.20 374.80,295.20 C375.25,297.20 375.57,302.60 375.90,302.60 C376.23,302.60 376.42,297.45 376.80,295.20 C377.18,292.95 377.75,289.88 378.20,289.10 C378.65,288.32 379.07,290.62 379.50,290.50 C379.93,290.38 380.47,287.90 380.80,288.40 C381.13,288.90 381.28,289.57 381.50,293.50 C381.72,297.43 381.90,302.95 382.10,312.00 C382.30,321.05 382.48,347.80 382.70,347.80 C382.92,347.80 383.15,320.63 383.40,312.00 C383.65,303.37 383.88,299.50 384.20,296.00 C384.52,292.50 384.63,292.48 385.30,291.00 C385.97,289.52 387.27,287.97 388.20,287.10 C389.13,286.23 390.00,286.20 390.90,285.80 C391.80,285.40 392.88,284.60 393.60,284.70 C394.32,284.80 394.75,285.10 395.20,286.40 C395.65,287.70 395.95,290.25 396.30,292.50 C396.65,294.75 396.97,300.13 397.30,299.90 C397.63,299.67 397.90,293.23 398.30,291.10 C398.70,288.97 399.18,287.82 399.70,287.10 C400.22,286.38 400.73,286.68 401.40,286.80 C402.07,286.92 402.87,287.70 403.70,287.80 C404.53,287.90 405.62,287.28 406.40,287.40 C407.18,287.52 407.83,287.88 408.40,288.50 C408.97,289.12 409.35,290.22 409.80,291.10 C410.25,291.98 410.55,293.68 411.10,293.80 C411.65,293.92 412.43,292.28 413.10,291.80 C413.77,291.32 414.53,290.83 415.10,290.90 C415.67,290.97 416.00,291.93 416.50,292.20 C417.00,292.47 417.62,292.90 418.10,292.50 C418.58,292.10 419.08,290.22 419.40,289.80 C419.72,289.38 419.90,289.97 420.00,290.00" fill="none" stroke="#ff00ff" stroke-width="1.4" stroke-linejoin="round" stroke-linecap="round"/>
<g clip-path="url(#ic)">
<path d="M453.60,56.10 C453.95,55.88 454.95,55.12 455.70,54.80 C456.45,54.48 457.28,54.12 458.10,54.20 C458.92,54.28 459.52,54.57 460.60,55.30 C461.68,56.03 463.12,57.52 464.60,58.60 C466.08,59.68 467.92,60.72 469.50,61.80 C471.08,62.88 473.02,63.87 474.10,65.10 C475.18,66.33 475.27,67.72 476.00,69.20 C476.73,70.68 477.68,72.38 478.50,74.00 C479.32,75.62 480.10,77.45 480.90,78.90 C481.70,80.35 482.48,81.75 483.30,82.70 C484.12,83.65 484.98,84.02 485.80,84.60 C486.62,85.18 487.45,85.65 488.20,86.20 C488.95,86.75 489.67,88.17 490.30,87.90 C490.93,87.63 491.45,86.10 492.00,84.60 C492.55,83.10 493.00,80.80 493.60,78.90 C494.20,77.00 494.87,74.95 495.60,73.20 C496.33,71.45 497.07,69.88 498.00,68.40 C498.93,66.92 500.12,65.67 501.20,64.30 C502.28,62.93 503.55,61.42 504.50,60.20 C505.45,58.98 506.17,57.73 506.90,57.00 C507.63,56.27 508.30,55.80 508.90,55.80 C509.50,55.80 509.88,56.95 510.50,57.00 C511.12,57.05 511.83,56.38 512.60,56.10 C513.37,55.82 514.42,55.23 515.10,55.30 C515.78,55.37 516.17,56.22 516.70,56.50 C517.23,56.78 517.70,56.65 518.30,57.00 C518.90,57.35 519.97,58.33 520.30,58.60" fill="none" stroke="#000" stroke-width="1.4" stroke-linejoin="round" stroke-linecap="round"/>
<path d="M453.30,112.10 C453.60,112.25 454.48,112.75 455.10,113.00 C455.72,113.25 456.22,113.75 457.00,113.60 C457.78,113.45 458.88,112.20 459.80,112.10 C460.72,112.00 461.58,112.07 462.50,113.00 C463.42,113.93 464.38,116.00 465.30,117.70 C466.22,119.40 467.08,121.67 468.00,123.20 C468.92,124.73 469.87,125.22 470.80,126.90 C471.73,128.58 472.68,131.00 473.60,133.30 C474.52,135.60 475.38,138.08 476.30,140.70 C477.22,143.32 478.23,146.08 479.10,149.00 C479.97,151.92 480.78,155.28 481.50,158.20 C482.22,161.12 482.88,164.80 483.40,166.50 C483.92,168.20 484.08,168.55 484.60,168.40 C485.12,168.25 485.97,165.60 486.50,165.60 C487.03,165.60 487.33,167.48 487.80,168.40 C488.27,169.32 488.82,171.87 489.30,171.10 C489.78,170.33 490.25,166.57 490.70,163.80 C491.15,161.03 491.57,156.67 492.00,154.50 C492.43,152.33 492.77,151.25 493.30,150.80 C493.83,150.35 494.58,152.10 495.20,151.80 C495.82,151.50 496.45,151.00 497.00,149.00 C497.55,147.00 498.00,143.18 498.50,139.80 C499.00,136.42 499.38,131.62 500.00,128.70 C500.62,125.78 501.38,124.13 502.20,122.30 C503.02,120.47 503.98,118.85 504.90,117.70 C505.82,116.55 506.87,115.72 507.70,115.40 C508.53,115.08 509.13,115.27 509.90,115.80 C510.67,116.33 511.43,117.92 512.30,118.60 C513.17,119.28 514.27,119.45 515.10,119.90 C515.93,120.35 516.43,120.53 517.30,121.30 C518.17,122.07 519.80,123.97 520.30,124.50" fill="none" stroke="#ff0000" stroke-width="1.4" stroke-linejoin="round" stroke-linecap="round"/>
<path d="M453.30,165.50 C453.77,165.75 455.02,167.00 456.10,167.00 C457.18,167.00 458.73,165.43 459.80,165.50 C460.87,165.57 461.58,166.32 462.50,167.40 C463.42,168.48 464.38,170.32 465.30,172.00 C466.22,173.68 466.93,175.82 468.00,177.50 C469.07,179.18 470.62,180.40 471.70,182.10 C472.78,183.80 473.57,185.70 474.50,187.70 C475.43,189.70 476.43,191.80 477.30,194.10 C478.17,196.40 479.00,199.03 479.70,201.50 C480.40,203.97 480.88,206.75 481.50,208.90 C482.12,211.05 482.78,214.10 483.40,214.40 C484.02,214.70 484.53,211.53 485.20,210.70 C485.87,209.87 486.72,209.55 487.40,209.40 C488.08,209.25 488.75,210.65 489.30,209.80 C489.85,208.95 490.15,206.45 490.70,204.30 C491.25,202.15 491.98,197.68 492.60,196.90 C493.22,196.12 493.88,198.37 494.40,199.60 C494.92,200.83 495.18,203.37 495.70,204.30 C496.22,205.23 496.98,206.43 497.50,205.20 C498.02,203.97 498.38,200.13 498.80,196.90 C499.22,193.67 499.43,189.18 500.00,185.80 C500.57,182.42 501.38,179.05 502.20,176.60 C503.02,174.15 503.83,172.48 504.90,171.10 C505.97,169.72 507.52,168.47 508.60,168.30 C509.68,168.13 510.48,169.33 511.40,170.10 C512.32,170.87 513.18,172.12 514.10,172.90 C515.02,173.68 515.87,173.78 516.90,174.80 C517.93,175.82 519.73,178.30 520.30,179.00" fill="none" stroke="#0000ff" stroke-width="1.4" stroke-linejoin="round" stroke-linecap="round"/>
<path d="M453.30,219.90 C453.77,220.12 455.02,221.28 456.10,221.20 C457.18,221.12 458.73,219.30 459.80,219.40 C460.87,219.50 461.58,220.63 462.50,221.80 C463.42,222.97 464.38,224.72 465.30,226.40 C466.22,228.08 466.93,230.22 468.00,231.90 C469.07,233.58 470.62,235.07 471.70,236.50 C472.78,237.93 473.42,239.12 474.50,240.50 C475.58,241.88 477.12,243.17 478.20,244.80 C479.28,246.43 480.10,248.57 481.00,250.30 C481.90,252.03 482.72,254.75 483.60,255.20 C484.48,255.65 485.32,253.73 486.30,253.00 C487.28,252.27 488.52,252.15 489.50,250.80 C490.48,249.45 491.38,245.25 492.20,244.90 C493.02,244.55 493.58,247.25 494.40,248.70 C495.22,250.15 496.38,253.60 497.10,253.60 C497.82,253.60 498.15,250.97 498.70,248.70 C499.25,246.43 499.82,242.82 500.40,240.00 C500.98,237.18 501.75,233.77 502.20,231.80 C502.65,229.83 502.50,229.25 503.10,228.20 C503.70,227.15 504.88,226.17 505.80,225.50 C506.72,224.83 507.62,224.05 508.60,224.20 C509.58,224.35 510.62,225.58 511.70,226.40 C512.78,227.22 513.67,227.45 515.10,229.10 C516.53,230.75 519.43,235.10 520.30,236.30" fill="none" stroke="#008080" stroke-width="1.4" stroke-linejoin="round" stroke-linecap="round"/>
<path d="M453.30,283.50 C453.60,283.75 454.48,284.75 455.10,285.00 C455.72,285.25 456.22,285.32 457.00,285.00 C457.78,284.68 458.88,283.20 459.80,283.10 C460.72,283.00 461.73,283.12 462.50,284.40 C463.27,285.68 463.78,288.35 464.40,290.80 C465.02,293.25 465.53,296.27 466.20,299.10 C466.87,301.93 467.53,305.53 468.40,307.80 C469.27,310.07 470.25,310.90 471.40,312.70 C472.55,314.50 474.17,316.15 475.30,318.60 C476.43,321.05 477.32,323.98 478.20,327.40 C479.08,330.82 479.88,335.20 480.60,339.10 C481.32,343.00 482.02,347.87 482.50,350.80 C482.98,353.73 483.13,356.70 483.50,356.70 C483.87,356.70 484.28,354.72 484.70,350.80 C485.12,346.88 485.52,339.07 486.00,333.20 C486.48,327.33 487.10,320.32 487.60,315.60 C488.10,310.88 488.52,307.58 489.00,304.90 C489.48,302.22 490.02,299.98 490.50,299.50 C490.98,299.02 491.40,300.28 491.90,302.00 C492.40,303.72 493.02,305.57 493.50,309.80 C493.98,314.03 494.35,321.55 494.80,327.40 C495.25,333.25 495.77,340.02 496.20,344.90 C496.63,349.78 496.98,356.70 497.40,356.70 C497.82,356.70 498.25,350.12 498.70,344.90 C499.15,339.68 499.60,331.58 500.10,325.40 C500.60,319.22 501.12,312.78 501.70,307.80 C502.28,302.82 502.75,298.48 503.60,295.50 C504.45,292.52 505.82,291.05 506.80,289.90 C507.78,288.75 508.58,288.45 509.50,288.60 C510.42,288.75 511.37,289.50 512.30,290.80 C513.23,292.10 514.18,294.23 515.10,296.40 C516.02,298.57 516.93,301.28 517.80,303.80 C518.67,306.32 519.88,310.22 520.30,311.50" fill="none" stroke="#ff00ff" stroke-width="1.4" stroke-linejoin="round" stroke-linecap="round"/>
</g>
<defs><clipPath id="ic"><rect x="453.5" y="36" width="66.8" height="351"/></clipPath></defs>
<rect x="50" y="36" width="370" height="351" fill="none" stroke="#000" stroke-width="1.6"/>
<rect x="453.5" y="36" width="66.8" height="351" fill="none" stroke="#000" stroke-width="1.6"/>
<line x1="50.00" y1="387" x2="50.00" y2="393.5" stroke="#000" stroke-width="1.6"/>
<line x1="75.69" y1="387" x2="75.69" y2="390.8" stroke="#000" stroke-width="1.6"/>
<line x1="101.39" y1="387" x2="101.39" y2="393.5" stroke="#000" stroke-width="1.6"/>
<line x1="127.08" y1="387" x2="127.08" y2="390.8" stroke="#000" stroke-width="1.6"/>
<line x1="152.78" y1="387" x2="152.78" y2="393.5" stroke="#000" stroke-width="1.6"/>
<line x1="178.47" y1="387" x2="178.47" y2="390.8" stroke="#000" stroke-width="1.6"/>
<line x1="204.17" y1="387" x2="204.17" y2="393.5" stroke="#000" stroke-width="1.6"/>
<line x1="229.86" y1="387" x2="229.86" y2="390.8" stroke="#000" stroke-width="1.6"/>
<line x1="255.56" y1="387" x2="255.56" y2="393.5" stroke="#000" stroke-width="1.6"/>
<line x1="281.25" y1="387" x2="281.25" y2="390.8" stroke="#000" stroke-width="1.6"/>
<line x1="306.94" y1="387" x2="306.94" y2="393.5" stroke="#000" stroke-width="1.6"/>
<line x1="332.64" y1="387" x2="332.64" y2="390.8" stroke="#000" stroke-width="1.6"/>
<line x1="358.33" y1="387" x2="358.33" y2="393.5" stroke="#000" stroke-width="1.6"/>
<line x1="384.03" y1="387" x2="384.03" y2="390.8" stroke="#000" stroke-width="1.6"/>
<line x1="409.72" y1="387" x2="409.72" y2="393.5" stroke="#000" stroke-width="1.6"/>
<line x1="453.50" y1="387" x2="453.50" y2="393.5" stroke="#000" stroke-width="1.6"/>
<line x1="486.90" y1="387" x2="486.90" y2="390.8" stroke="#000" stroke-width="1.6"/>
<line x1="520.30" y1="387" x2="520.30" y2="393.5" stroke="#000" stroke-width="1.6"/>
<text x="50.00" y="413.7" text-anchor="middle" class="ser" font-size="19">4000</text>
<text x="101.39" y="413.7" text-anchor="middle" class="ser" font-size="19">3500</text>
<text x="152.78" y="413.7" text-anchor="middle" class="ser" font-size="19">3000</text>
<text x="204.17" y="413.7" text-anchor="middle" class="ser" font-size="19">2500</text>
<text x="255.56" y="413.7" text-anchor="middle" class="ser" font-size="19">2000</text>
<text x="306.94" y="413.7" text-anchor="middle" class="ser" font-size="19">1500</text>
<text x="358.33" y="413.7" text-anchor="middle" class="ser" font-size="19">1000</text>
<text x="409.72" y="413.7" text-anchor="middle" class="ser" font-size="19">500</text>
<text x="453.5" y="413.7" text-anchor="middle" class="ser" font-size="19">1350</text>
<text x="520.3" y="413.7" text-anchor="middle" class="ser" font-size="19">1150</text>
<text x="219" y="451.9" class="ser" font-size="23.1">Wavenumber, cm<tspan font-size="12.2" dy="-11.6">-1</tspan></text>
<text x="27" y="290.2" transform="rotate(-90 27 290.2)" class="ser" font-size="23.1">Transmittance, a.u.</text>
<text x="53.3" y="52.3" class="ser" font-size="14.2" letter-spacing="0.35">PET-G</text>
<text x="53.3" y="105.8" class="ser" font-size="14.2"><tspan letter-spacing="0.35">PET-G/PEF</tspan> <tspan dx="0.8">80/20</tspan></text>
<text x="53.3" y="160.8" class="ser" font-size="14.2"><tspan letter-spacing="0.35">PET-G/PEF</tspan> <tspan dx="0.8">70/30</tspan></text>
<text x="53.3" y="215.0" class="ser" font-size="14.2"><tspan letter-spacing="0.35">PET-G/PEF</tspan> <tspan dx="0.8">50/50</tspan></text>
<text x="53.3" y="276.9" class="ser" font-size="14.2" letter-spacing="0">PEF</text>
<path d="M152.3,55.6 L152.3,60.1 Q152.3,61.3 153.5,61.3 L169.6,61.3 Q170.8,61.3 170.8,60.1 L170.8,55.6" fill="none" stroke="#555" stroke-width="1.1"/>
<path d="M152.3,219.2 L152.3,224.0 Q152.3,225.2 153.5,225.2 L169.9,225.2 Q171.1,225.2 171.1,224.0 L171.1,219.2" fill="none" stroke="#555" stroke-width="1.1"/>
<path d="M153.8,284.3 L153.8,288.4 Q153.8,289.6 155.0,289.6 L171.5,289.6 Q172.7,289.6 172.7,288.4 L172.7,284.3" fill="none" stroke="#555" stroke-width="1.1"/>
<text x="160.1" y="74.6" text-anchor="middle" class="ann">2924-2852</text>
<text transform="translate(288.70 105.00) rotate(-90)" class="ann">1716</text>
<line x1="284.5" y1="80.50" x2="284.5" y2="84.10" stroke="#1a1a1a" stroke-width="1.1"/>
<text transform="translate(302.85 84.70) rotate(-90)" class="ann">1580</text>
<line x1="299.5" y1="58.10" x2="299.5" y2="62.40" stroke="#1a1a1a" stroke-width="1.1"/>
<text transform="translate(313.15 87.00) rotate(-90)" class="ann">1451</text>
<line x1="311.5" y1="61.60" x2="311.5" y2="65.50" stroke="#1a1a1a" stroke-width="1.1"/>
<text transform="translate(337.65 115.70) rotate(-90)" class="ann">1240</text>
<line x1="333.5" y1="90.40" x2="333.5" y2="94.50" stroke="#1a1a1a" stroke-width="1.1"/>
<text transform="translate(366.05 85.60) rotate(-90)" class="ann">958</text>
<line x1="362.5" y1="65.40" x2="362.5" y2="68.90" stroke="#1a1a1a" stroke-width="1.1"/>
<text transform="translate(389.85 112.30) rotate(-90)" class="ann">728</text>
<line x1="386.5" y1="91.90" x2="386.5" y2="95.40" stroke="#1a1a1a" stroke-width="1.1"/>
<text transform="translate(137.70 246.40) rotate(-90)" class="ann">3162</text>
<line x1="135.5" y1="220.00" x2="135.5" y2="224.20" stroke="#1a1a1a" stroke-width="1.1"/>
<text transform="translate(146.50 246.40) rotate(-90)" class="ann">3126</text>
<line x1="140.5" y1="220.00" x2="140.5" y2="224.20" stroke="#1a1a1a" stroke-width="1.1"/>
<text transform="translate(165.30 272.20) rotate(-90)" class="ann">2924-2852</text>
<text transform="translate(288.80 279.10) rotate(-90)" class="ann">1714</text>
<line x1="284.5" y1="254.50" x2="284.5" y2="258.40" stroke="#1a1a1a" stroke-width="1.1"/>
<text transform="translate(302.00 252.70) rotate(-90)" class="ann">1580</text>
<line x1="298.5" y1="228.40" x2="298.5" y2="231.90" stroke="#1a1a1a" stroke-width="1.1"/>
<text transform="translate(313.10 250.10) rotate(-90)" class="ann">1451</text>
<line x1="311.5" y1="226.70" x2="311.5" y2="229.80" stroke="#1a1a1a" stroke-width="1.1"/>
<text transform="translate(332.00 282.80) rotate(-90)" class="ann">1261</text>
<line x1="330.5" y1="258.10" x2="330.5" y2="261.80" stroke="#1a1a1a" stroke-width="1.1"/>
<text transform="translate(339.60 282.40) rotate(-90)" class="ann">1218</text>
<line x1="335.5" y1="256.90" x2="335.5" y2="260.60" stroke="#1a1a1a" stroke-width="1.1"/>
<text transform="translate(366.95 259.00) rotate(-90)" class="ann">960</text>
<line x1="362.5" y1="239.80" x2="362.5" y2="243.60" stroke="#1a1a1a" stroke-width="1.1"/>
<text transform="translate(379.00 254.50) rotate(-90)" class="ann">825</text>
<line x1="375.5" y1="233.80" x2="375.5" y2="238.10" stroke="#1a1a1a" stroke-width="1.1"/>
<text transform="translate(384.95 270.60) rotate(-90)" class="ann">759</text>
<line x1="382.5" y1="250.10" x2="382.5" y2="253.30" stroke="#1a1a1a" stroke-width="1.1"/>
<text transform="translate(391.30 282.70) rotate(-90)" class="ann">728</text>
<line x1="386.5" y1="260.40" x2="386.5" y2="264.30" stroke="#1a1a1a" stroke-width="1.1"/>
<text transform="translate(137.70 311.20) rotate(-90)" class="ann">3162</text>
<line x1="135.5" y1="284.80" x2="135.5" y2="288.50" stroke="#1a1a1a" stroke-width="1.1"/>
<text transform="translate(146.15 311.20) rotate(-90)" class="ann">3126</text>
<line x1="140.5" y1="285.20" x2="140.5" y2="288.90" stroke="#1a1a1a" stroke-width="1.1"/>
<text transform="translate(166.65 336.40) rotate(-90)" class="ann">2960-2852</text>
<text transform="translate(288.55 367.80) rotate(-90)" class="ann">1714</text>
<line x1="284.5" y1="341.40" x2="284.5" y2="345.30" stroke="#1a1a1a" stroke-width="1.1"/>
<text transform="translate(302.00 324.40) rotate(-90)" class="ann">1580</text>
<line x1="298.5" y1="298.00" x2="298.5" y2="301.90" stroke="#1a1a1a" stroke-width="1.1"/>
<text transform="translate(332.50 382.70) rotate(-90)" class="ann">1261</text>
<line x1="330.5" y1="358.90" x2="330.5" y2="362.20" stroke="#1a1a1a" stroke-width="1.1"/>
<text transform="translate(341.60 383.20) rotate(-90)" class="ann">1218</text>
<line x1="335.5" y1="358.90" x2="335.5" y2="362.70" stroke="#1a1a1a" stroke-width="1.1"/>
<text transform="translate(350.70 373.40) rotate(-90)" class="ann">1124</text>
<line x1="346.5" y1="350.10" x2="346.5" y2="353.80" stroke="#1a1a1a" stroke-width="1.1"/>
<text transform="translate(367.05 334.50) rotate(-90)" class="ann">960</text>
<line x1="362.5" y1="314.20" x2="362.5" y2="318.00" stroke="#1a1a1a" stroke-width="1.1"/>
<text transform="translate(380.50 327.00) rotate(-90)" class="ann">825</text>
<line x1="376.5" y1="306.80" x2="376.5" y2="310.50" stroke="#1a1a1a" stroke-width="1.1"/>
<text transform="translate(386.45 371.60) rotate(-90)" class="ann">759</text>
<line x1="383.5" y1="348.10" x2="383.5" y2="352.60" stroke="#1a1a1a" stroke-width="1.1"/>
<text transform="translate(494.65 117.40) rotate(-90)" class="ann">1240</text>
<line x1="491.5" y1="91.60" x2="491.5" y2="95.50" stroke="#1a1a1a" stroke-width="1.1"/>
<text transform="translate(485.15 283.20) rotate(-90)" class="ann">1261</text>
<line x1="483.5" y1="258.10" x2="483.5" y2="261.40" stroke="#1a1a1a" stroke-width="1.1"/>
<text transform="translate(493.00 279.10) rotate(-90)" class="ann">1240</text>
<line x1="489.5" y1="254.00" x2="489.5" y2="257.70" stroke="#1a1a1a" stroke-width="1.1"/>
<text transform="translate(501.65 280.70) rotate(-90)" class="ann">1218</text>
<line x1="497.5" y1="256.00" x2="497.5" y2="259.70" stroke="#1a1a1a" stroke-width="1.1"/>
<text transform="translate(487.45 384.40) rotate(-90)" class="ann">1261</text>
<line x1="483.5" y1="359.30" x2="483.5" y2="363.20" stroke="#1a1a1a" stroke-width="1.1"/>
<text transform="translate(501.35 384.40) rotate(-90)" class="ann">1218</text>
<line x1="498.5" y1="359.70" x2="498.5" y2="363.70" stroke="#1a1a1a" stroke-width="1.1"/>
<path d="M321.9,45.8 H342.4 V381.7 Q342.4,384.2 339.9,384.2 H324.4 Q321.9,384.2 321.9,381.7 Z" fill="none" stroke="#ff1a1a" stroke-width="1.5" stroke-dasharray="5,2.8"/>
<path d="M333,45.7 C387.8,29.15 422.65,8.3 479.4,30.6" fill="none" stroke="#ff0000" stroke-width="1.4"/>
<path d="M487.8,34.6 L480.5,27.9 L478.0,32.6 Z" fill="#ff0000" stroke="#ff0000" stroke-width="0.5" stroke-linejoin="round"/>
</svg></body></html>
